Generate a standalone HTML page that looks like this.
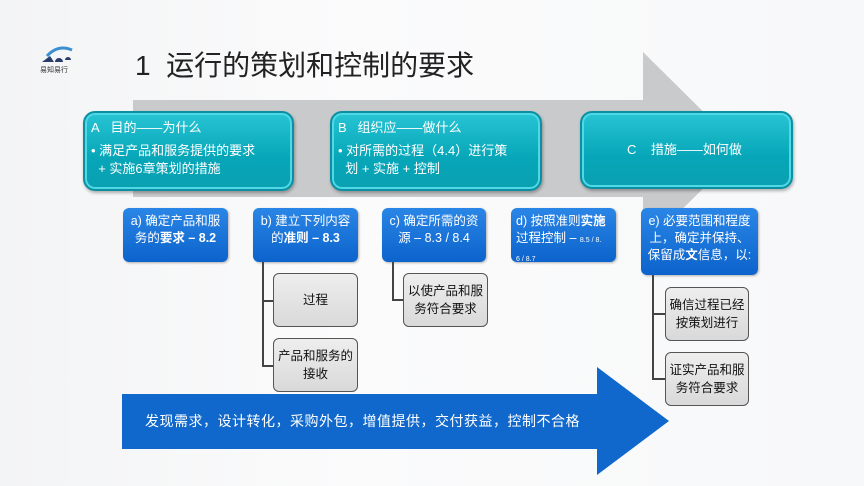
<!DOCTYPE html>
<html><head><meta charset="utf-8"><style>
body{margin:0;width:864px;height:486px;overflow:hidden;background:linear-gradient(90deg,#f3f4f5,#fbfbfc 40%,#f7f8f9);font-family:"Liberation Sans","Noto Sans CJK SC",sans-serif;position:relative}
.abs{position:absolute}
.teal{position:absolute;background:linear-gradient(180deg,#27c4d4,#06a6b8 60%,#0aa0b2);border:2px solid #0c8fa0;border-radius:12px;box-shadow:inset 0 0 0 2px #4fd8e6,1px 2px 3px rgba(0,0,0,.3);color:#fff;font-size:13px;line-height:18px;box-sizing:border-box}
.blue{position:absolute;background:linear-gradient(180deg,#2a86e6,#0c63cc);border-radius:6px;color:#fff;font-size:12.5px;line-height:17px;text-align:center;box-sizing:border-box;padding-top:5px;box-shadow:1px 1px 2px rgba(0,0,0,.3)}
.gray{position:absolute;background:linear-gradient(180deg,#eeeeee,#d9d9d9);border:1.5px solid #555;border-radius:6px;color:#111;font-size:12.5px;line-height:18px;text-align:center;box-sizing:border-box;display:flex;align-items:center;justify-content:center}
.ln{position:absolute;background:#444}
</style></head><body>
<svg class="abs" style="left:0;top:0" width="864" height="486">
<polygon points="133,100 643,100 643,52 742,150 643,248 643,197 133,197" fill="#c9cacc"/>
<polygon points="122,394 597,394 597,367 669,421 597,475 597,449 122,449" fill="#1068cc"/>
<path d="M42 62 L50 56 L54 62 Z M55 62 a4 4 0 1 1 8 0 Z M65 60 a3 3 0 1 1 6 0 Z" fill="#2a3c6a"/>
<path d="M47 56 Q58 44 72 50" stroke="#3a8fd0" stroke-width="3" fill="none"/>
</svg>
<div class="abs" style="left:40px;top:65px;font-size:7px;color:#333">易知易行</div>
<div class="abs" style="left:135px;top:44px;font-size:28px;color:#222">1&nbsp; 运行的策划和控制的要求</div>
<div class="teal" style="left:83px;top:111px;width:211px;height:80px;padding:6px 6px">A&nbsp;&nbsp; 目的——为什么<div style="margin-top:5px">• 满足产品和服务提供的要求<br>&nbsp;&nbsp;+ 实施6章策划的措施</div></div>
<div class="teal" style="left:330px;top:111px;width:212px;height:80px;padding:6px 6px">B&nbsp;&nbsp; 组织应——做什么<div style="margin-top:5px">• 对所需的过程（4.4）进行策<br>&nbsp;&nbsp;划 + 实施 + 控制</div></div>
<div class="teal" style="left:580px;top:111px;width:213px;height:78px;padding-top:28px;padding-left:45px">C&nbsp;&nbsp;&nbsp; 措施——如何做</div>
<div class="blue" style="left:123px;top:208px;width:105px;height:54px">a) 确定产品和服<br>务的<b>要求 – 8.2</b></div>
<div class="blue" style="left:253px;top:208px;width:105px;height:54px">b) 建立下列内容<br>的<b>准则 – 8.3</b></div>
<div class="blue" style="left:382px;top:208px;width:104px;height:54px">c) 确定所需的资<br>源 – 8.3 / 8.4</div>
<div class="blue" style="left:511px;top:208px;width:105px;height:54px;text-align:left;padding-left:5px">d) 按照准则<b>实施</b><br>过程控制 – <span style="font-size:7px">8.5 / 8.<br>6 / 8.7</span></div>
<div class="blue" style="left:641px;top:208px;width:117px;height:67px">e) 必要范围和程度<br>上，确定并保持、<br>保留成<b>文</b>信息，以:</div>
<div class="ln" style="left:262px;top:262px;width:1.5px;height:104px"></div>
<div class="ln" style="left:262px;top:300px;width:12px;height:1.5px"></div>
<div class="ln" style="left:262px;top:365px;width:12px;height:1.5px"></div>
<div class="ln" style="left:392px;top:262px;width:1.5px;height:38px"></div>
<div class="ln" style="left:392px;top:299px;width:12px;height:1.5px"></div>
<div class="ln" style="left:652px;top:275px;width:1.5px;height:104px"></div>
<div class="ln" style="left:652px;top:313px;width:14px;height:1.5px"></div>
<div class="ln" style="left:652px;top:378px;width:14px;height:1.5px"></div>
<div class="gray" style="left:273px;top:273px;width:85px;height:54px">过程</div>
<div class="gray" style="left:273px;top:338px;width:85px;height:54px">产品和服务的<br>接收</div>
<div class="gray" style="left:403px;top:273px;width:85px;height:54px">以使产品和服<br>务符合要求</div>
<div class="gray" style="left:665px;top:287px;width:84px;height:54px">确信过程已经<br>按策划进行</div>
<div class="gray" style="left:665px;top:352px;width:84px;height:54px">证实产品和服<br>务符合要求</div>
<div class="abs" style="left:145px;top:412px;font-size:14px;color:#fff;letter-spacing:.5px;line-height:18px">发现需求，设计转化，采购外包，增值提供，交付获益，控制不合格</div>
</body></html>
